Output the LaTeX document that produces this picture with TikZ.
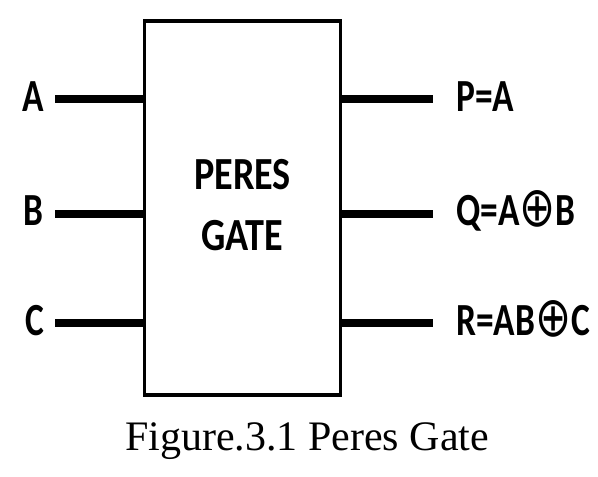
\documentclass[tikz,border=0pt]{standalone}
\usepackage{fontspec}
\setmainfont{Liberation Serif}
\newfontfamily\lblfont{Carlito}
\newfontfamily\symfont{DejaVu Sans}
\newcommand{\xorsym}{{\symfont\mdseries\fontsize{56}{56}\selectfont\raisebox{-1pt}{⊕}}}
\newcommand{\narrow}[1]{\scalebox{0.77}[1]{#1}}
\tikzset{
  wire/.style={line width=8pt},
  gatebox/.style={draw, line width=3.5pt, minimum width=196pt, minimum height=374pt, inner sep=0pt,
    font=\lblfont\bfseries\fontsize{46}{61}\selectfont},
  lbl/.style={inner sep=0pt, font=\lblfont\bfseries\fontsize{46}{46}\selectfont},
  caption/.style={inner sep=0pt, font=\fontsize{42}{42}\selectfont}
}
\begin{document}
\begin{tikzpicture}[x=1pt,y=-1pt]
\useasboundingbox (0,0) rectangle (598,477);
\node[gatebox] (gate) at (242.5,208)
  {\scalebox{0.83}[1]{\begin{tabular}{@{}c@{}}PERES\\GATE\end{tabular}}};
% wire end points
\coordinate (ia) at (55,99);
\coordinate (ib) at (55,213.5);
\coordinate (ic) at (55,323);
\coordinate (oa) at (433,99);
\coordinate (ob) at (433,213.5);
\coordinate (oc) at (433,323);
\draw[wire] (ia) -- (ia -| gate.west);
\draw[wire] (ib) -- (ib -| gate.west);
\draw[wire] (ic) -- (ic -| gate.west);
\draw[wire] (oa -| gate.east) -- (oa);
\draw[wire] (ob -| gate.east) -- (ob);
\draw[wire] (oc -| gate.east) -- (oc);
% labels
\node[lbl, anchor=base east] (la) at (44,111) {\narrow{A}};
\node[lbl, anchor=base east] (lb) at (44,225.5) {\narrow{B}};
\node[lbl, anchor=base east] (lc) at (44,335) {\narrow{C}};
\node[lbl, anchor=base west] (lp) at (456,111) {\narrow{P=A}};
\node[lbl, anchor=base west] (lq) at (456,225.5) {\narrow{Q=A\xorsym B}};
\node[lbl, anchor=base west] (lr) at (456,335) {\narrow{R=AB\xorsym C}};
\node[caption, anchor=base] (cap) at (307,450) {Figure.3.1 Peres Gate};
\end{tikzpicture}
\end{document}
